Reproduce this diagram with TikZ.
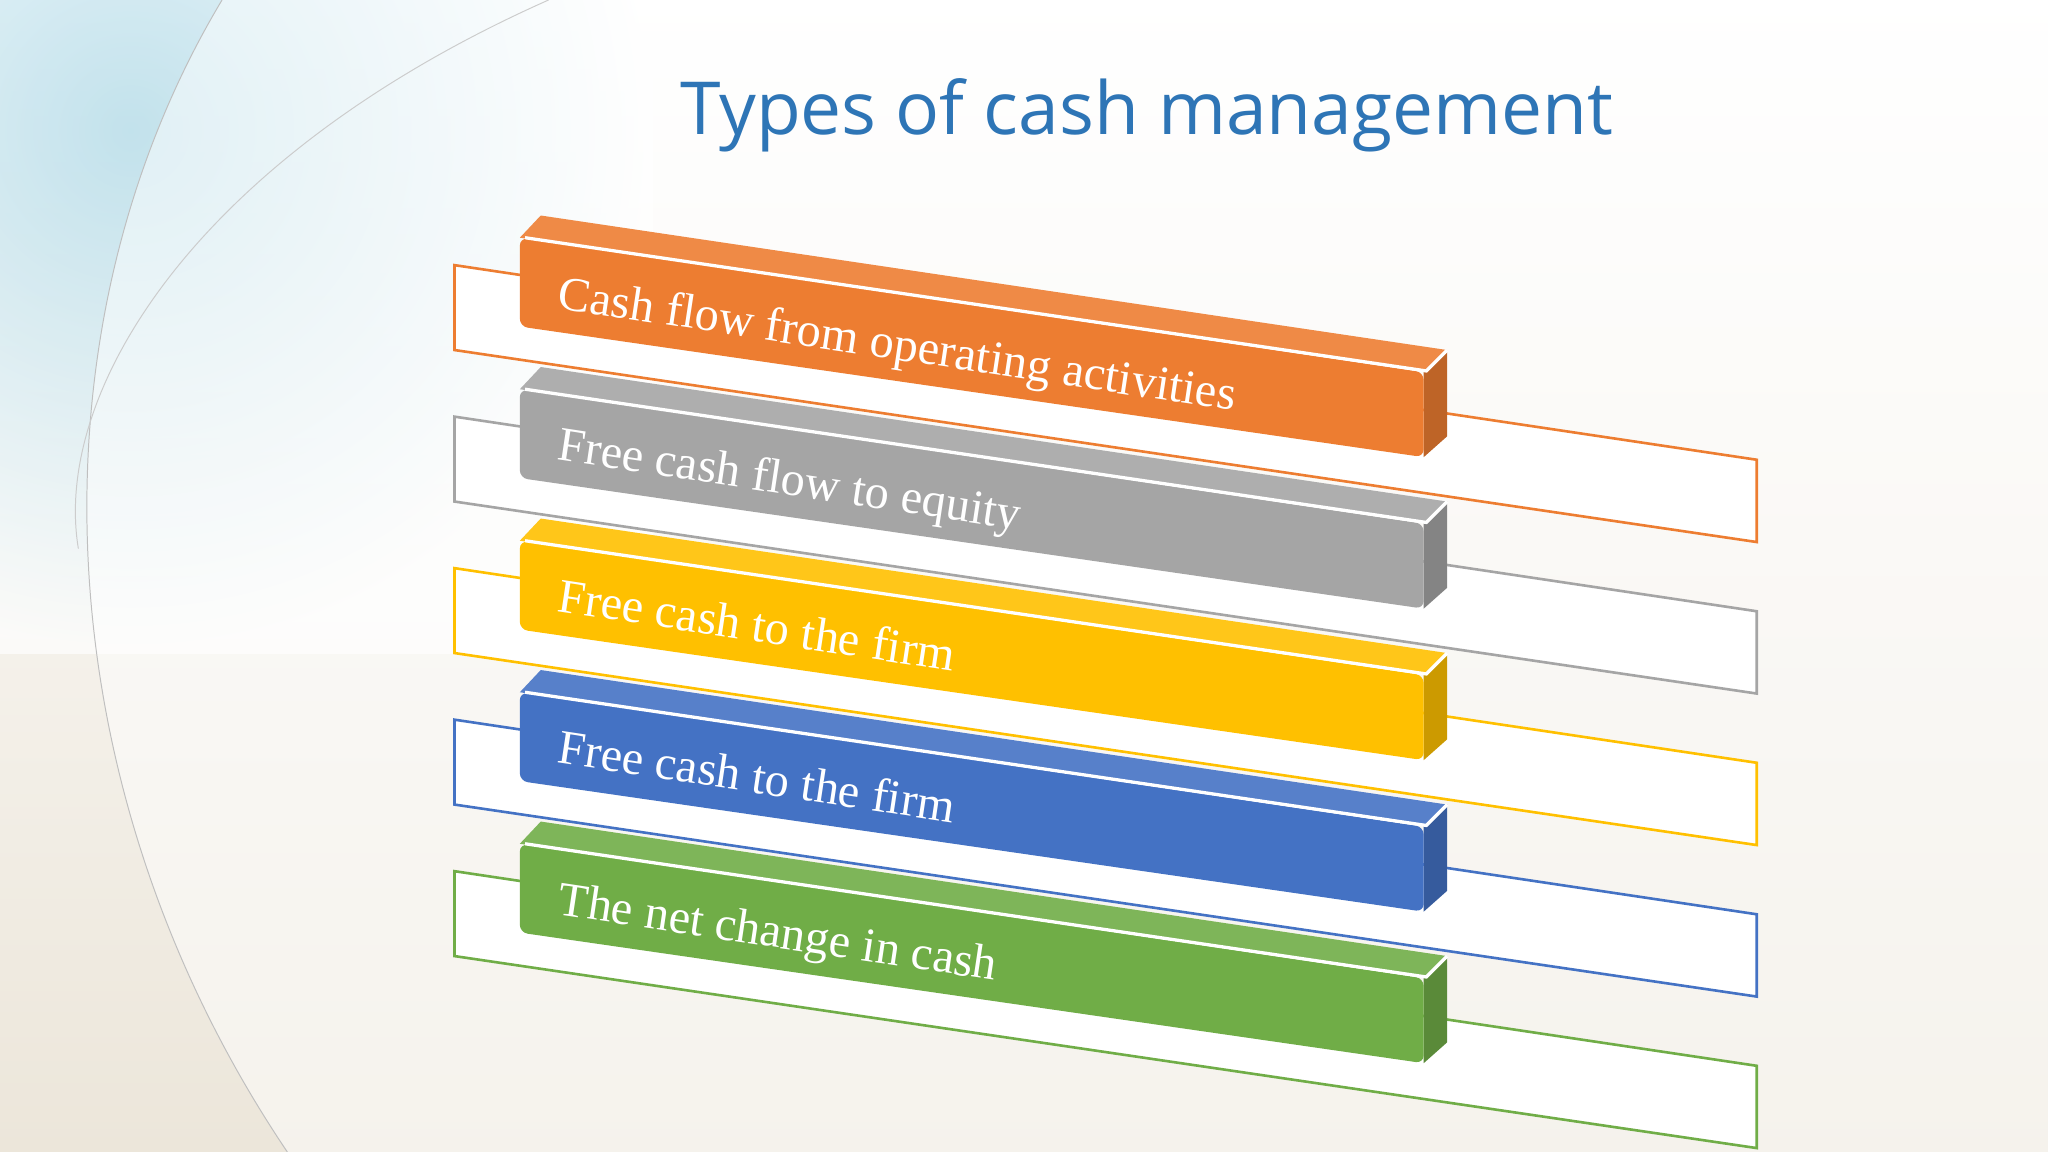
\documentclass[tikz,border=0pt]{standalone}
\usepackage{fontspec}
\setmainfont{Liberation Serif}
\newfontfamily\titlefont{Open Sans}
\definecolor{titleblue}{RGB}{46,117,182}
\definecolor{bandorange}{RGB}{237,125,49}
\definecolor{bandgray}{RGB}{165,165,165}
\definecolor{bandyellow}{RGB}{255,192,0}
\definecolor{bandblue}{RGB}{68,114,196}
\definecolor{bandgreen}{RGB}{112,173,71}
\definecolor{bgcyan}{RGB}{170,215,230}
\definecolor{bgsand}{RGB}{236,230,218}
\tikzset{every picture/.style={line width=0.75pt},
  plate/.style={fill=white,draw=#1,line width=2pt},
  bandfront/.style={fill=#1,rounded corners=6pt},
  bandtop/.style={fill=#1!90!white},
  bandside/.style={fill=#1!80!black},
  bandtext/.style={anchor=base west,inner sep=0pt,rotate=-8.6,text=white,font=\fontsize{37}{44}\selectfont}}

\begin{document}
\begin{tikzpicture}[x=1pt,y=1pt,yscale=-1,xscale=1]
\useasboundingbox (0,0) rectangle (1568,882);

% Background
\shade [top color=white,bottom color=bgsand] (0,0) rectangle (1568,882);
\shade [inner color=bgcyan,outer color=white,opacity=0.7] (-300,-300) rectangle (500,500);
\fill [white,opacity=0.5] (170,0) .. controls (20,250) and (30,600) .. (220,882) -- (1568,882) -- (1568,0) -- cycle;
%Curve Lines
\draw [gray!50]  (170,0) .. controls (20,250) and (30,600) .. (220,882) ;
\draw [gray!40]  (420,0) .. controls (150,120) and (40,300) .. (60,420) ;

% Title
\node (title) at (878,88) [text=titleblue,font=\titlefont\fontsize{56}{64}\selectfont] {Types of cash management};

% Bands
\foreach \i/\col/\txt in {0/bandorange/Cash flow from operating activities,
                          1/bandgray/Free cash flow to equity,
                          2/bandyellow/Free cash to the firm,
                          3/bandblue/Free cash to the firm,
                          4/bandgreen/The net change in cash}{
  \pgfmathsetmacro{\d}{116*\i}
  \draw [plate=\col] (348,203+\d) -- (1345,352+\d) -- (1345,415+\d) -- (348,268+\d) -- cycle;
  \fill [bandtop=\col] (398,182+\d) -- (414,165+\d) -- (1108,268+\d) -- (1090,284+\d) -- cycle;
  \fill [bandside=\col] (1090,284+\d) -- (1108,268+\d) -- (1108,334+\d) -- (1090,350+\d) -- cycle;
  \fill [bandfront=\col] (398,182+\d) -- (1090,285+\d) -- (1090,350+\d) -- (398,250+\d) -- cycle;
  \draw [white,line width=2.5pt] (402,182+\d) -- (1092,284+\d) -- (1108,268+\d);
  % Text Node
  \node (band\i) [bandtext] at (426,236+\d) {\txt};
}
\end{tikzpicture}
\end{document}
